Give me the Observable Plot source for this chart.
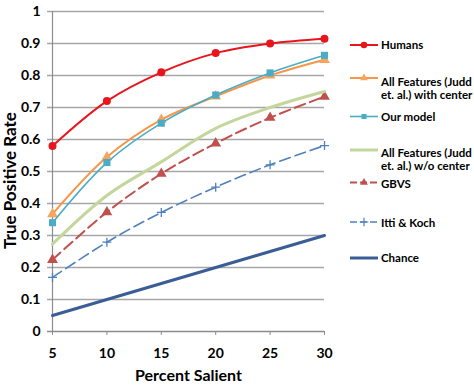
<!DOCTYPE html>
<html>
<head>
<meta charset="utf-8">
<script src="https://cdn.jsdelivr.net/npm/d3@7"></script>
<script src="https://cdn.jsdelivr.net/npm/@observablehq/plot@0.6"></script>
<style>
  html, body { margin: 0; padding: 0; background: #fff; }
  #chart { width: 474px; height: 387px; }
</style>
</head>
<body>
<div id="chart"></div>
<script>
// ---- data ----
const percentSalient = [5, 10, 15, 20, 25, 30];
const yTicks = [0, 0.1, 0.2, 0.3, 0.4, 0.5, 0.6, 0.7, 0.8, 0.9, 1];

const humans        = [0.58, 0.72, 0.81, 0.87, 0.90, 0.915];
const juddWithCtr   = [0.367, 0.545, 0.662, 0.735, 0.80, 0.849];
const ourModel      = [0.34, 0.528, 0.651, 0.739, 0.808, 0.863];
const juddNoCtr     = [0.273, 0.425, 0.53, 0.635, 0.70, 0.75];
const gbvs          = [0.224, 0.373, 0.493, 0.588, 0.668, 0.734];
const ittiKoch      = [0.169, 0.279, 0.372, 0.451, 0.521, 0.581];
const chance        = [0.05, 0.10, 0.15, 0.20, 0.25, 0.30];

const seriesNames = [
  "Humans",
  "All Features (Judd et. al.) with center",
  "Our model",
  "All Features (Judd et. al.) w/o center",
  "GBVS",
  "Itti & Koch",
  "Chance"
];
const legendLines = [
  ["Humans"],
  ["All Features (Judd", "et. al.) with center"],
  ["Our model"],
  ["All Features (Judd", "et. al.) w/o center"],
  ["GBVS"],
  ["Itti & Koch"],
  ["Chance"]
];
const seriesValues = [humans, juddWithCtr, ourModel, juddNoCtr, gbvs, ittiKoch, chance];

// ---- styles ----
const styles = [
  {color: "#e8161c", width: 2,   dash: null,   symbol: "circle",   r: 4,   curve: "catmull-rom"},
  {color: "#f79646", width: 2,   dash: null,   symbol: "triangle", r: 4,   curve: "catmull-rom", mfill: "#f9a45e"},
  {color: "#4bacc6", width: 1.6, dash: null,   symbol: "square",   r: 4,   curve: "catmull-rom"},
  {color: "#c3d69b", width: 3,   dash: null,   symbol: null,       r: 0,   curve: "catmull-rom"},
  {color: "#c0504d", width: 2,   dash: "11,5", symbol: "triangle", r: 4,   curve: "catmull-rom"},
  {color: "#4f81bd", width: 1.6, dash: "11,5", symbol: "plus",     r: 3,   curve: "catmull-rom"},
  {color: "#3a5d96", width: 3,   dash: null,   symbol: null,       r: 0,   curve: "linear"}
];

const rows = seriesNames.map((name, k) =>
  percentSalient.map((x, i) => ({series: name, x, y: seriesValues[k][i]}))
);

// draw order: bottom first
const order = [6, 5, 4, 3, 1, 2, 0];
const seriesMarks = [];
for (const k of order) {
  const s = styles[k];
  seriesMarks.push(Plot.line(rows[k], {
    x: "x", y: "y", stroke: s.color, strokeWidth: s.width,
    strokeDasharray: s.dash || undefined, curve: s.curve
  }));
  if (s.symbol) {
    if (s.symbol === "plus") {
      seriesMarks.push(Plot.dot(rows[k], {x: "x", y: "y", symbol: "plus", r: s.r, stroke: s.color, strokeWidth: 1.3}));
    } else {
      seriesMarks.push(Plot.dot(rows[k], {x: "x", y: "y", symbol: s.symbol, r: s.r, fill: s.mfill || s.color, stroke: "none"}));
    }
  }
}

const fmtY = d => String(+d.toFixed(1));

const chart = Plot.plot({
  width: 474,
  height: 387,
  marginLeft: 52,
  marginRight: 150,
  marginTop: 11,
  marginBottom: 56,
  style: {fontFamily: "Lato, 'DejaVu Sans', sans-serif", fontWeight: "bold", fontSize: "14px", color: "#000", background: "#fff", overflow: "visible"},
  x: {domain: [5, 30]},
  y: {domain: [0, 1]},
  marks: [
    Plot.ruleY(yTicks.filter(d => d > 0), {stroke: "#a6a6a6", strokeWidth: 1.3, insetLeft: -5}),
    Plot.ruleX([5], {stroke: "#8c8c8c", strokeWidth: 1.2}),
    Plot.ruleY([0], {stroke: "#8c8c8c", strokeWidth: 1.3, insetLeft: -5}),
    Plot.axisY({ticks: yTicks, tickSize: 0, tickPadding: 12, tickFormat: fmtY, label: null, fill: "#000"}),
    Plot.axisX({ticks: percentSalient, tickSize: 4, tickPadding: 13, tickFormat: d => String(d), label: null, stroke: "#8c8c8c", fill: "#000"}),
    Plot.text(["True Positive Rate"], {text: d => d, frameAnchor: "left", textAnchor: "middle", lineAnchor: "middle", dx: -42, dy: 9, rotate: -90, fontSize: 17, fill: "#000"}),
    Plot.text(["Percent Salient"], {text: d => d, frameAnchor: "bottom", textAnchor: "middle", lineAnchor: "middle", dy: 44, fontSize: 16, fill: "#000"}),
    ...seriesMarks
  ]
});

document.getElementById("chart").appendChild(chart);

// ---- legend (drawn into the same svg) ----
const svg = d3.select(chart);
const lg = svg.append("g")
  .attr("font-family", "Lato, 'DejaVu Sans', sans-serif")
  .attr("font-weight", "bold").attr("font-size", 11.5)
  .attr("text-anchor", "start");
const swatchY = [45, 78, 116.5, 150, 182.5, 222, 258];
const textY   = [45, 82, 116.7, 153.3, 183.5, 222.7, 258];
const symMap = {circle: d3.symbolCircle, triangle: d3.symbolTriangle, square: d3.symbolSquare, plus: d3.symbolPlus};
legendLines.forEach((lines, k) => {
  const s = styles[k];
  const g = lg.append("g");
  g.append("line").attr("x1", 350).attr("x2", 378).attr("y1", swatchY[k]).attr("y2", swatchY[k])
    .attr("stroke", s.color).attr("stroke-width", s.width)
    .attr("stroke-dasharray", s.dash ? "7,3" : null);
  if (s.symbol) {
    const area = s.symbol === "circle" ? Math.PI * 3.3 * 3.3 : 26;
    const p = g.append("path").attr("transform", `translate(364,${swatchY[k]})`)
      .attr("d", d3.symbol(symMap[s.symbol], area)());
    if (s.symbol === "plus") p.attr("fill", "none").attr("stroke", s.color).attr("stroke-width", 1.2);
    else p.attr("fill", s.mfill || s.color);
  }
  const t = g.append("text").attr("x", 381).attr("fill", "#000").attr("text-anchor", "start");
  lines.forEach((ln, j) => {
    t.append("tspan").attr("x", 381).attr("y", textY[k] + j * 13).attr("dy", "0.35em").text(ln);
  });
});
</script>
</body>
</html>
